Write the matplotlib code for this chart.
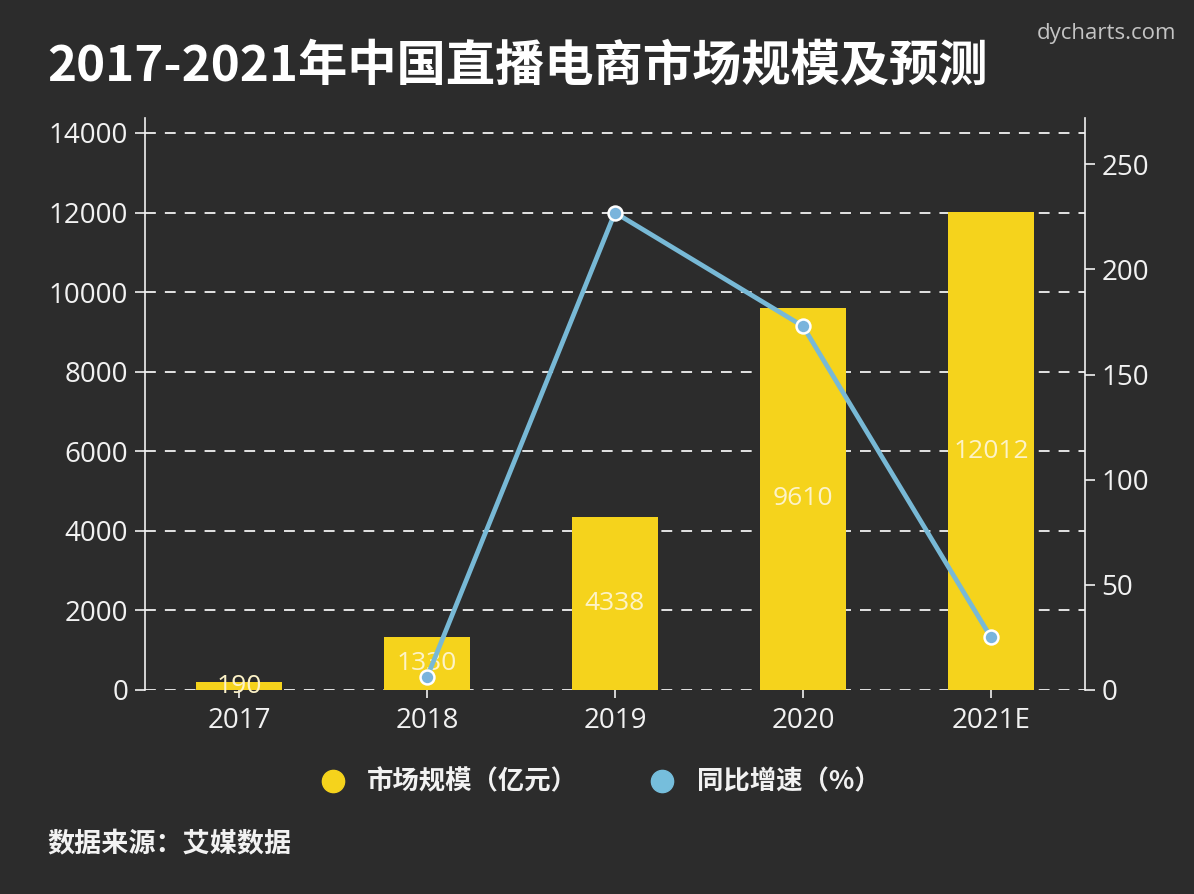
import matplotlib.pyplot as plt
import numpy as np
from matplotlib.lines import Line2D

plt.rcParams['font.family'] = ['Noto Sans CJK SC', 'DejaVu Sans']
NUM_FONT = ['Open Sans', 'Noto Sans CJK SC']

# ── Data ───────────────────────────────────────────────────────────────────────
years = ["2017", "2018", "2019", "2020", "2021E"]
market_size = [190, 1330, 4338, 9610, 12012]          # 亿元
growth_years = ["2018", "2019", "2020", "2021E"]
growth_rate = [6, 227, 173, 25]                       # %

left_ticks = [0, 2000, 4000, 6000, 8000, 10000, 12000, 14000]
right_ticks = [0, 50, 100, 150, 200, 250]

BG = "#2c2c2c"
YELLOW = "#f5d31c"
BLUE = "#78b9d6"
WHITE = "#f2f2f2"

fig = plt.figure(figsize=(11.94, 8.94), dpi=100)
fig.patch.set_facecolor(BG)
ax = fig.add_axes([0.1214, 0.2282, 0.7873, 0.6398])
ax.set_facecolor(BG)

x = np.arange(len(years))
ax.bar(x, market_size, width=0.46, color=YELLOW, zorder=2)
for xi, v in zip(x, market_size):
    ax.text(xi, v / 2, f"{v}", ha="center", va="center", color="#fdf3c8",
            fontsize=19, family=NUM_FONT, zorder=5)

ax.set_xlim(-0.5, len(years) - 0.5)
ax.set_ylim(0, 14375)
ax.set_yticks(left_ticks)
ax.set_xticks(x)
ax.set_xticklabels(years)
for yv in left_ticks:
    ax.axhline(yv, color=WHITE, lw=1.3, ls=(0, (6, 5)), zorder=1)

ax.tick_params(axis="y", colors=WHITE, labelsize=20, length=7, width=1.2, pad=5)
ax.tick_params(axis="x", colors=WHITE, labelsize=20, length=6, width=1.2, pad=6)
for s in ["top", "right", "bottom"]:
    ax.spines[s].set_visible(False)
ax.spines["left"].set_color(WHITE)
ax.spines["left"].set_linewidth(1.2)

# ── Right axis: growth ─────────────────────────────────────────────────────────
ax2 = ax.twinx()
gx = [years.index(y) for y in growth_years]
ax2.plot(gx, growth_rate, color=BLUE, lw=3.4, zorder=4,
         marker="o", markersize=10, markerfacecolor="#7ab4dc",
         markeredgecolor="white", markeredgewidth=1.8)
ax2.set_ylim(0, 272)
ax2.set_yticks(right_ticks)
ax2.tick_params(axis="y", colors=WHITE, labelsize=20, length=7, width=1.2, pad=5)
for s in ["top", "left", "bottom"]:
    ax2.spines[s].set_visible(False)
ax2.spines["right"].set_color(WHITE)
ax2.spines["right"].set_linewidth(1.2)

for lab in ax.get_xticklabels() + ax.get_yticklabels() + ax2.get_yticklabels():
    lab.set_family(NUM_FONT)

# ── Titles, legend, source ─────────────────────────────────────────────────────
fig.text(0.04, 0.926, "2017-2021年中国直播电商市场规模及预测", color="white",
         fontsize=35.5, fontweight="heavy", va="center", ha="left")
fig.text(0.985, 0.962, "dycharts.com", color="#c4c4c4", fontsize=16,
         family=NUM_FONT, va="center", ha="right")

handles = [
    Line2D([], [], ls="none", marker="o", markersize=16, color=YELLOW,
           label="市场规模（亿元）"),
    Line2D([], [], ls="none", marker="o", markersize=16, color="#76bedc",
           label="同比增速（%）"),
]
fig.legend(handles=handles, loc="center", bbox_to_anchor=(0.497, 0.125),
           ncol=2, frameon=False, labelcolor=WHITE,
           handletextpad=0.3, columnspacing=2.2,
           prop={"size": 19, "weight": "bold"})

fig.text(0.04, 0.055, "数据来源：艾媒数据", color=WHITE, fontsize=19.5,
         fontweight="bold", va="center", ha="left")

plt.savefig("out.png", dpi=100, facecolor=fig.get_facecolor())
